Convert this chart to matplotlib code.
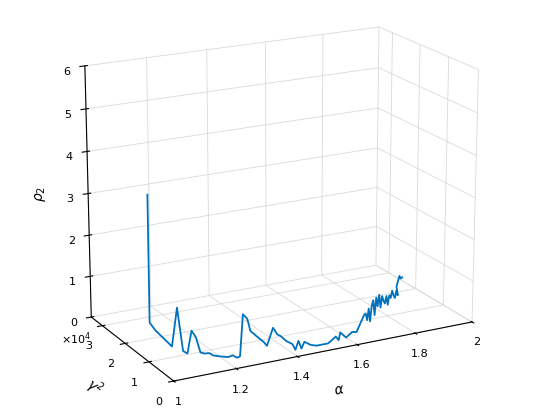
import matplotlib.pyplot as plt
import numpy as np

alpha = [1.05, 1.05, 1.06, 1.07, 1.08, 1.09, 1.10, 1.11, 1.12, 1.13, 1.14, 1.15, 1.16, 1.17, 1.18, 1.20, 1.22, 1.23, 1.24, 1.25,
         1.26, 1.27, 1.28, 1.30, 1.32, 1.33, 1.35, 1.36, 1.37, 1.39, 1.41, 1.42, 1.43, 1.44, 1.45, 1.47, 1.49, 1.51, 1.53, 1.55,
         1.56, 1.57, 1.58, 1.60, 1.62, 1.63, 1.65, 1.66, 1.67, 1.69, 1.70, 1.71, 1.72, 1.73, 1.74, 1.75, 1.76, 1.77, 1.78, 1.79,
         1.80, 1.81, 1.82, 1.83, 1.84, 1.85, 1.86, 1.87, 1.88, 1.89, 1.90, 1.91, 1.92, 1.92, 1.93, 1.94, 1.95, 1.96]
gamma2 = [1.6e4, 1.6e4, 1.5e4, 1.4e4, 1.3e4, 1.2e4, 1.1e4, 1.0e4, 0.95e4, 0.9e4, 0.85e4, 0.8e4, 0.75e4, 0.7e4, 0.65e4, 0.6e4, 0.55e4, 0.5e4, 0.45e4, 0.45e4,
          0.45e4, 0.4e4, 0.4e4, 0.4e4, 0.35e4, 0.35e4, 0.35e4, 0.3e4, 0.3e4, 0.3e4, 0.3e4, 0.3e4, 0.3e4, 0.3e4, 0.3e4, 0.3e4, 0.3e4, 0.3e4, 0.3e4, 0.3e4,
          0.35e4, 0.35e4, 0.4e4, 0.4e4, 0.45e4, 0.5e4, 0.55e4, 0.6e4, 0.65e4, 0.7e4, 0.75e4, 0.8e4, 0.85e4, 0.9e4, 0.95e4, 1.0e4, 1.05e4, 1.1e4, 1.15e4, 1.2e4,
          1.25e4, 1.3e4, 1.35e4, 1.4e4, 1.45e4, 1.5e4, 1.55e4, 1.6e4, 1.65e4, 1.7e4, 1.75e4, 1.8e4, 1.85e4, 1.9e4, 1.95e4, 2.0e4, 2.05e4, 2.1e4]
rho2 = [3.6, 0.6, 0.45, 0.35, 0.25, 0.15, 1.1, 0.1, 0.05, 0.6, 0.45, 0.1, 0.08, 0.1, 0.05, 0.02, 0.0, 0.05, 0.0, 0.02,
        1.0, 0.9, 0.6, 0.45, 0.3, 0.2, 0.6, 0.45, 0.4, 0.25, 0.15, 0.0, 0.2, 0.0, 0.15, 0.05, 0.0, 0.0, 0.0, 0.1,
        0.1, 0.0, 0.15, 0.0, 0.05, 0.05, 0.0, 0.05, 0.1, 0.3, 0.3, 0.1, 0.35, 0.0, 0.35, 0.45, 0.05, 0.45, 0.2, 0.45,
        0.1, 0.35, 0.2, 0.1, 0.25, 0.0, 0.2, 0.1, 0.25, 0.1, 0.0, 0.15, 0.0, 0.2, 0.3, 0.4, 0.3, 0.3]

fig = plt.figure(figsize=(5.5, 4.14), dpi=100)
ax = fig.add_subplot(111, projection='3d')
ax.set_box_aspect((1.9, 1.1, 1.5), zoom=1.0)
ax.plot(alpha, gamma2, rho2, color='#0072BD', lw=1.3)
ax.set_xlim(1, 2)
ax.set_ylim(0, 3.5e4)
ax.set_zlim(0, 6)
ax.set_xticks([1, 1.2, 1.4, 1.6, 1.8, 2])
ax.set_xticklabels(['1', '1.2', '1.4', '1.6', '1.8', '2'])
ax.set_yticks([0, 1e4, 2e4, 3e4])
ax.set_yticklabels(['0', '1', '2', '3'])
ax.set_zticks(range(7))
ax.set_xlabel(r'$\alpha$', labelpad=0)
ax.set_ylabel(r'$\gamma^2$', labelpad=0)
ax.zaxis.set_rotate_label(False)
ax.set_zlabel(r'$\rho_2$', rotation=90, labelpad=0)
ax.text2D(0.03, 0.19, r'$\times10^4$', transform=ax.transAxes, fontsize=8)
for a in (ax.xaxis, ax.yaxis, ax.zaxis):
    a.set_pane_color((1, 1, 1, 0))
    a._axinfo['grid']['color'] = (0.85, 0.85, 0.85, 1)
    a._axinfo['grid']['linewidth'] = 0.6
    a.set_tick_params(labelsize=8, pad=0)
ax.view_init(elev=18, azim=-118)
ax.set_position([-0.03, -0.04, 1.06, 1.1])
fig.savefig('out.png', dpi=100)
